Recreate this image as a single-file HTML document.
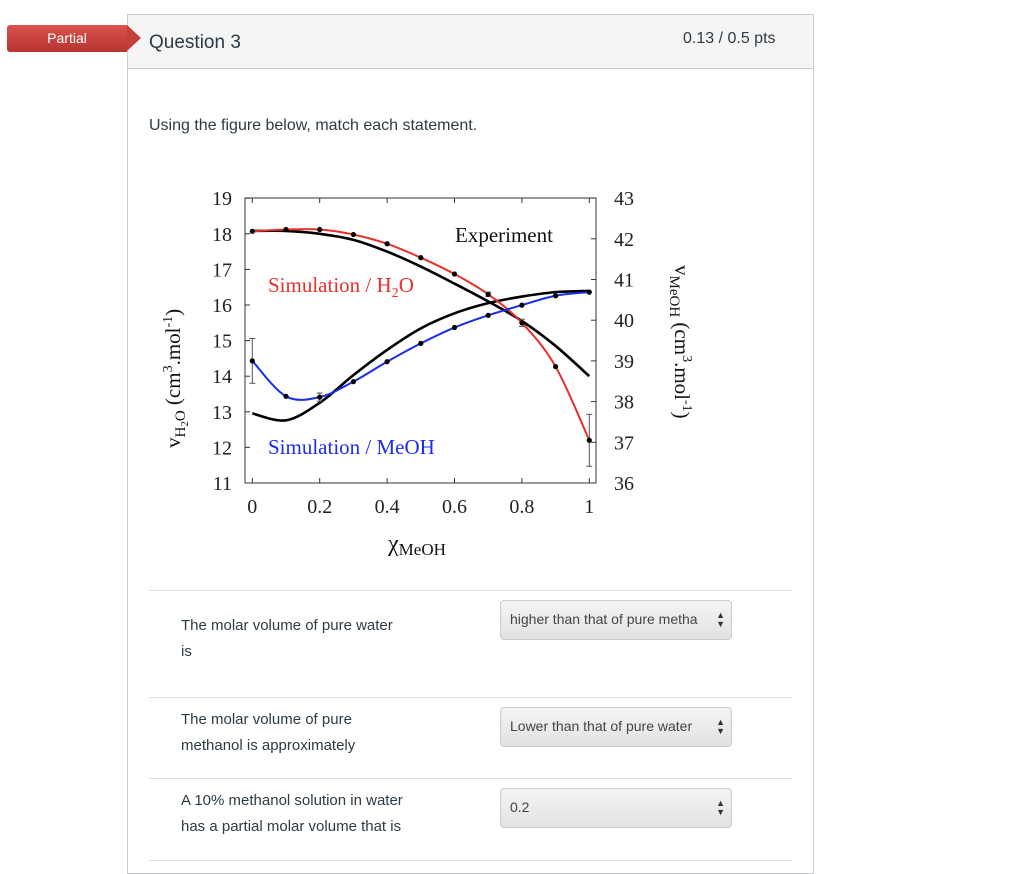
<!DOCTYPE html>
<html><head><meta charset="utf-8">
<style>
body{margin:0;width:1024px;height:862px;background:#fff;font-family:"Liberation Sans",sans-serif;position:relative;overflow:hidden;color:#2d3b45}
.abs{position:absolute}
#card{left:127px;top:14px;width:687px;height:860px;border:1px solid #c7cdd1;box-sizing:border-box}
#hdr{left:128px;top:15px;width:685px;height:53px;background:#f5f5f5;border-bottom:1px solid #c7cdd1}
#badge{left:7px;top:25px;width:120px;height:27px;background:linear-gradient(#d9534f,#b83430);color:#fff;font-size:14px;line-height:27px;text-align:center;border-radius:3px 0 0 3px}
#badge:after{content:"";position:absolute;right:-14px;top:0;border-left:14px solid #c3403c;border-top:13.5px solid transparent;border-bottom:13.5px solid transparent}
.sep{left:149px;width:643px;height:1px;background:#d9dde0}
.q{left:181px;font-size:15px;line-height:26px;color:#2d3b45}
.sel{left:500px;width:232px;height:40px;box-sizing:border-box;border:1px solid #c7cdd1;border-radius:4px;background:linear-gradient(#f4f4f4,#e2e2e2);font-size:14px;color:#444;padding:10px 0 0 9px;white-space:nowrap;overflow:hidden}
.sel span.ar{position:absolute;right:6px;top:10px;font-size:9px;line-height:9px;color:#333}
svg text{font-family:"Liberation Serif",serif}
</style></head><body>
<div id="card" class="abs"></div>
<div id="hdr" class="abs"></div>
<div id="badge" class="abs">Partial</div>
<div class="abs" style="left:149px;top:32px;font-size:19px;color:#2d3b45">Question 3</div>
<div class="abs" style="left:683px;top:30px;font-size:16px;color:#2d3b45">0.13 / 0.5 pts</div>
<div class="abs" style="left:149px;top:117px;font-size:16px;color:#2d3b45">Using the figure below, match each statement.</div>

<svg class="abs" style="left:0;top:0" width="1024" height="580" id="chart"></svg>

<div class="sep abs" style="top:590px"></div>
<div class="q abs" style="top:613px">The molar volume of pure water<br>is</div>
<div class="sel abs" style="top:600px">higher than that of pure metha<span class="ar">▲<br>▼</span></div>
<div class="sep abs" style="top:697px"></div>
<div class="q abs" style="top:707px">The molar volume of pure<br>methanol is approximately</div>
<div class="sel abs" style="top:707px">Lower than that of pure water<span class="ar">▲<br>▼</span></div>
<div class="sep abs" style="top:778px"></div>
<div class="q abs" style="top:788px">A 10% methanol solution in water<br>has a partial molar volume that is</div>
<div class="sel abs" style="top:788px">0.2<span class="ar">▲<br>▼</span></div>
<div class="sep abs" style="top:860px"></div>

<script>
const xVals=[0,0.1,0.2,0.3,0.4,0.5,0.6,0.7,0.8,0.9,1.0];
const simH2O=[18.07,18.12,18.12,17.98,17.72,17.33,16.87,16.3,15.5,14.27,12.2];
const simMeOH=[39.0,38.13,38.11,38.49,38.98,39.43,39.82,40.12,40.37,40.60,40.69];
const expH2O=[18.08,18.08,18.0,17.83,17.5,17.08,16.6,16.1,15.55,14.85,14.0];
const expMeOH=[37.71,37.54,37.97,38.65,39.27,39.8,40.17,40.42,40.58,40.69,40.72];
const errH2O=[0,0,0,0,0,0,0,0.06,0.1,0,0.73];
const errMeOH=[0.55,0,0.1,0,0,0,0,0,0,0,0];
const xTicks=[0,0.2,0.4,0.6,0.8,1];
const leftTicks=[11,12,13,14,15,16,17,18,19];
const rightTicks=[36,37,38,39,40,41,42,43];
const NS="http://www.w3.org/2000/svg";
const svg=document.getElementById('chart');
const X=v=>252.3+v*337;
const YL=v=>483-(v-11)*35.6;
const YR=v=>483-(v-36)*40.7;
function el(t,a,p){const e=document.createElementNS(NS,t);for(const k in a)e.setAttribute(k,a[k]);(p||svg).appendChild(e);return e;}
const frame=el('rect',{x:245,y:198,width:351,height:285,fill:'none',stroke:'#333','stroke-width':1});


xTicks.forEach(t=>{
 el('line',{x1:X(t),x2:X(t),y1:483,y2:478,stroke:'#333'});el('line',{x1:X(t),x2:X(t),y1:198,y2:203,stroke:'#333'});
 const tx=el('text',{x:X(t),y:513,'font-size':20,'text-anchor':'middle',fill:'#222'});tx.textContent=t;
 
 
});
leftTicks.forEach(t=>{
 el('line',{x1:245,x2:250,y1:YL(t),y2:YL(t),stroke:'#333'});
 const tx=el('text',{x:232,y:YL(t)+7,'font-size':20,'text-anchor':'end',fill:'#222'});tx.textContent=t;
 
 
});
rightTicks.forEach(t=>{
 el('line',{x1:596,x2:591,y1:YR(t),y2:YR(t),stroke:'#333'});
 const tx=el('text',{x:614,y:YR(t)+7,'font-size':20,fill:'#222'});tx.textContent=t;
 
 
});
function smooth(pts){let d='M'+pts[0][0]+','+pts[0][1];
 for(let i=0;i<pts.length-1;i++){const p0=pts[Math.max(i-1,0)],p1=pts[i],p2=pts[i+1],p3=pts[Math.min(i+2,pts.length-1)];
 d+=' C'+(p1[0]+(p2[0]-p0[0])/6)+','+(p1[1]+(p2[1]-p0[1])/6)+' '+(p2[0]-(p3[0]-p1[0])/6)+','+(p2[1]-(p3[1]-p1[1])/6)+' '+p2[0]+','+p2[1];}
 return d;}
function curve(vals,Y,color,name){const p=el('path',{d:smooth(vals.map((v,i)=>[X(xVals[i]),Y(v)])),fill:'none',stroke:color,'stroke-width':color=='#000'?2.6:2});
 
 }
curve(expH2O,YL,'#000','experiment-h2o-curve');
curve(expMeOH,YR,'#000','experiment-meoh-curve');
curve(simH2O,YL,'#e8302a','simulation-h2o-curve');
curve(simMeOH,YR,'#1a2ee8','simulation-meoh-curve');
function points(vals,errs,Y,name){vals.forEach((v,i)=>{
 if(errs[i]>0){const x=X(xVals[i]);
  el('line',{x1:x,x2:x,y1:Y(v-errs[i]),y2:Y(v+errs[i]),stroke:'#555'});
  el('line',{x1:x-3,x2:x+3,y1:Y(v-errs[i]),y2:Y(v-errs[i]),stroke:'#555'});
  el('line',{x1:x-3,x2:x+3,y1:Y(v+errs[i]),y2:Y(v+errs[i]),stroke:'#555'});}
 const c=el('circle',{cx:X(xVals[i]),cy:Y(v),r:2.6,fill:'#000'});
 
 });}
points(simH2O,errH2O,YL,'sim-h2o-point');
points(simMeOH,errMeOH,YR,'sim-meoh-point');
</script>
<svg class="abs" style="left:0;top:0;pointer-events:none" width="1024" height="580">
<text x="455" y="242" font-size="21" fill="#111">Experiment</text>
<text x="268" y="292" font-size="21" fill="#e8302a">Simulation / H<tspan font-size="14" dy="5">2</tspan><tspan dy="-5">O</tspan></text>
<text x="268" y="454" font-size="21" fill="#1a2ee8">Simulation / MeOH</text>
<text x="388" y="551" font-size="24" fill="#111">χ<tspan font-size="17" dy="4">MeOH</tspan></text>
<text transform="translate(180,448) rotate(-90)" font-size="21" fill="#111">v<tspan font-size="15" dy="5">H</tspan><tspan font-size="11" dy="3">2</tspan><tspan font-size="15" dy="-3">O</tspan><tspan dy="-5"> (cm</tspan><tspan font-size="14" dy="-8">3</tspan><tspan dy="8">.mol</tspan><tspan font-size="14" dy="-8">-1</tspan><tspan dy="8">)</tspan></text>
<text transform="translate(675,265) rotate(90)" font-size="21" fill="#111">v<tspan font-size="15" dy="5">MeOH</tspan><tspan dy="-5"> (cm</tspan><tspan font-size="14" dy="-8">3</tspan><tspan dy="8">.mol</tspan><tspan font-size="14" dy="-8">-1</tspan><tspan dy="8">)</tspan></text>
</svg>
</body></html>
